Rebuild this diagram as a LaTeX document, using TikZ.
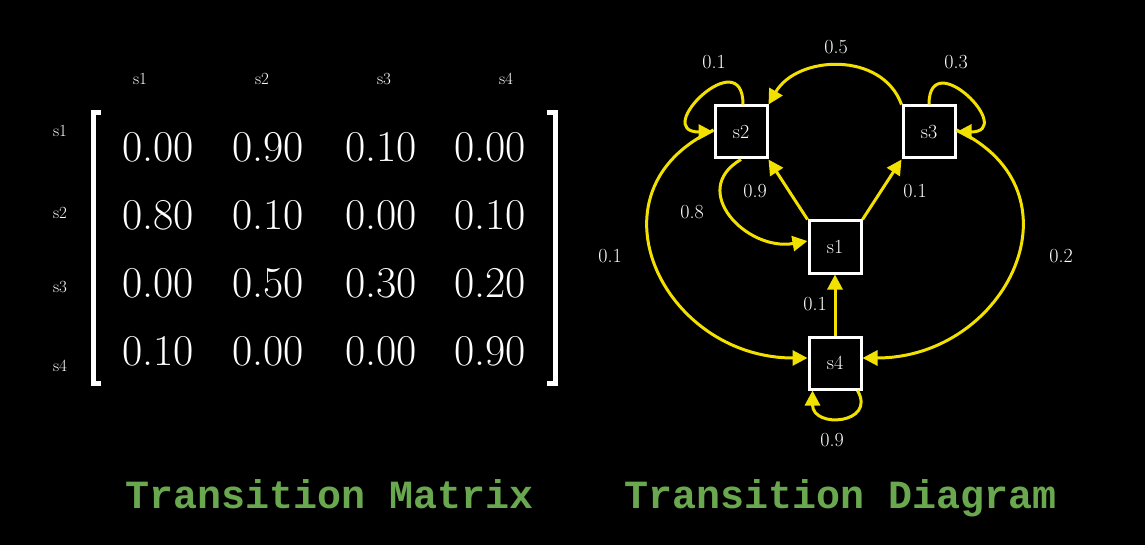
\documentclass[tikz,border=0pt]{standalone}
\usepackage{fontspec}
\newfontfamily\titlefont{Liberation Mono}
\usetikzlibrary{arrows.meta}
\definecolor{ylw}{HTML}{F2E100}
\definecolor{grn}{HTML}{6AA84F}
\tikzset{
  st/.style={draw=white,line width=3pt,fill=black,minimum size=52pt,inner sep=0pt,text=white,font=\fontsize{20}{22}\selectfont},
  tr/.style={draw=ylw,line width=3pt,-{Triangle[length=15pt,width=15pt]}},
  lb/.style={text=white,font=\fontsize{20}{22}\selectfont},
  sm/.style={text=white,font=\fontsize{17}{19}\selectfont},
  mv/.style={text=white,font=\fontsize{44}{48}\selectfont},
  ttl/.style={text=grn,anchor=base,font=\titlefont\bfseries\fontsize{40}{42}\selectfont}
}
\begin{document}
\begin{tikzpicture}[x=1pt,y=-1pt]
\fill[black] (0,0) rectangle (1145,545);
\useasboundingbox (0,0) rectangle (1145,545);
% matrix
\foreach \x/\t in {140/s1,262/s2,384/s3,506/s4} \node[sm] (c\t) at (\x,79) {\t};
\foreach \y/\t in {131/s1,213/s2,287/s3,366/s4} \node[sm] (r\t) at (60,\y) {\t};
\foreach \y [count=\i] in {147,215,283,351}{
  \foreach \x [count=\j] in {158,268,381,490}{
    \coordinate (m\i\j) at (\x,\y);
  }
}
\node[mv] (a11) at (m11) {0.00}; \node[mv] (a12) at (m12) {0.90}; \node[mv] (a13) at (m13) {0.10}; \node[mv] (a14) at (m14) {0.00};
\node[mv] (a21) at (m21) {0.80}; \node[mv] (a22) at (m22) {0.10}; \node[mv] (a23) at (m23) {0.00}; \node[mv] (a24) at (m24) {0.10};
\node[mv] (a31) at (m31) {0.00}; \node[mv] (a32) at (m32) {0.50}; \node[mv] (a33) at (m33) {0.30}; \node[mv] (a34) at (m34) {0.20};
\node[mv] (a41) at (m41) {0.10}; \node[mv] (a42) at (m42) {0.00}; \node[mv] (a43) at (m43) {0.00}; \node[mv] (a44) at (m44) {0.90};
\draw[white,line width=5pt] (101,113) -- (93,113) -- (93,383) -- (101,383);
\draw[white,line width=5pt] (547,113) -- (555,113) -- (555,383) -- (547,383);
% diagram
\node[st] (s2) at (741,132) {s2};
\node[st] (s3) at (929,132) {s3};
\node[st] (s1) at (835,247) {s1};
\node[st] (s4) at (835,363) {s4};
\draw[tr] ([xshift=2pt]s2.north) to[out=90,in=180,looseness=4] (s2.west);
\node[lb] (l22) at (714,62) {0.1};
\draw[tr] (s3.north) to[out=90,in=0,looseness=4] (s3.east);
\node[lb] (l33) at (956,62) {0.3};
\draw[tr] (s3.north west) to[out=110,in=60,looseness=1.1] (s2.north east);
\node[lb] (l32) at (836,47) {0.5};
\draw[tr] (s1.north west) -- (s2.south east);
\node[lb] (l12) at (755,191) {0.9};
\draw[tr] (s1.north east) -- (s3.south west);
\node[lb] (l13) at (915,191) {0.1};
\draw[tr] (s2.south) to[out=210,in=190,looseness=1.5] ([yshift=6pt]s1.west);
\node[lb] (l21) at (692,212) {0.8};
\draw[tr] ([yshift=2pt]s2.west) to[out=205,in=180,looseness=1.5] ([yshift=5pt]s4.west);
\node[lb] (l24) at (610,256) {0.1};
\draw[tr] ([yshift=2pt]s3.east) to[out=-25,in=0,looseness=1.5] ([yshift=5pt]s4.east);
\node[lb] (l34) at (1061,256) {0.2};
\draw[tr] (s4.north) -- (s1.south);
\node[lb] (l41) at (815,304) {0.1};
\draw[tr] ([xshift=-5pt]s4.south east) to[out=-60,in=-90,looseness=2.2] ([xshift=5pt]s4.south west);
\node[lb] (l44) at (832,440) {0.9};
% titles
\node[ttl] (t1) at (330,508) {Transition Matrix};
\node[ttl] (t2) at (841,508) {Transition Diagram};
\end{tikzpicture}
\end{document}
